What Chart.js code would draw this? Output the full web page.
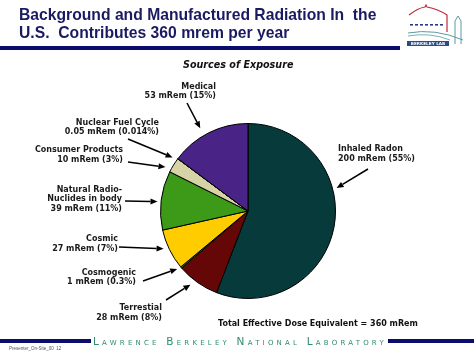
<!DOCTYPE html>
<html>
<head>
<meta charset="utf-8">
<script src="https://cdn.jsdelivr.net/npm/chart.js@4"></script>
<style>
  html, body { margin: 0; padding: 0; background: #fff; }
  #wrap { position: relative; width: 474px; height: 355px; overflow: hidden; background: #fff; }
  #c { position: absolute; left: 0; top: 0; }
  .title { position: absolute; left: 19px; top: 6px; font: bold 15.7px "Liberation Sans", Arial, sans-serif; line-height: 18px; color: #1a1a62; white-space: pre; }
  .bar { position: absolute; background: #0c0c6e; }
  .sub { position: absolute; left: 183px; top: 59px; font: italic bold 9.6px "DejaVu Sans", Verdana, sans-serif; color: #111; white-space: pre; }
  .lbl { position: absolute; font: bold 8px "DejaVu Sans", Verdana, sans-serif; line-height: 9.5px; color: #1a1a1a; white-space: pre; }
  .total { position: absolute; left: 218px; top: 319px; font: bold 8px "DejaVu Sans", Verdana, sans-serif; color: #111; white-space: pre; }
  .banner { position: absolute; left: 93px; top: 335px; font: 10.5px "DejaVu Sans", Verdana, sans-serif; font-variant: small-caps; color: #2f8c6e; white-space: pre; line-height: 12px; }
  .foot { position: absolute; left: 9px; top: 346px; font: 4.5px "Liberation Sans", Arial, sans-serif; color: #555; white-space: pre; }
  .logo { position: absolute; left: 400px; top: 0px; }
</style>
</head>
<body>
<div id="wrap">
  <canvas id="c" width="474" height="355"></canvas>
  <div class="title">Background and Manufactured Radiation In  the
U.S.  Contributes 360 mrem per year</div>
  <div class="bar" style="left:0;top:46px;width:400px;height:4px;"></div>
  <svg class="logo" width="74" height="60" viewBox="0 0 74 60">
    <path d="M9 15 Q18 8 25 7 L26 5 L27 7 Q38 9 47 15 L47 32" fill="none" stroke="#c0283a" stroke-width="1.2"/>
    <g fill="#2a3a8a">
      <rect x="10" y="24" width="3" height="1.6"/><rect x="15" y="24" width="3" height="1.6"/>
      <rect x="20" y="24" width="3" height="1.6"/><rect x="25" y="24" width="3" height="1.6"/>
      <rect x="30" y="24" width="3" height="1.6"/><rect x="35" y="24" width="3" height="1.6"/>
      <rect x="40" y="24" width="3" height="1.6"/>
    </g>
    <path d="M8 33 Q35 28 63 40" fill="none" stroke="#5a9aa0" stroke-width="1"/>
    <path d="M8 36 Q30 32 50 40" fill="none" stroke="#5a9aa0" stroke-width="0.8"/>
    <path d="M55 44 L55 21 L58 16 L61 21 L61 44" fill="none" stroke="#5a9aa0" stroke-width="1"/>
    <rect x="7" y="41" width="42" height="5" fill="#2a4a8a"/>
    <text x="28" y="45.2" font-family="DejaVu Sans" font-size="4.2" font-weight="bold" fill="#ffffff" text-anchor="middle">BERKELEY LAB</text>
  </svg>
  <div class="sub">Sources of Exposure</div>
  <div id="labels"></div>
  <div class="total">Total Effective Dose Equivalent = 360 mRem</div>
  <div class="bar" style="left:0;top:339px;width:91px;height:4px;"></div>
  <div class="bar" style="left:388px;top:339px;width:86px;height:4px;"></div>
  <div class="banner" id="banner">Lawrence Berkeley National Laboratory</div>
  <div class="foot">Presenter_On-Site_00  12</div>
</div>
<script>
// ---- data ----
const categories = ['Inhaled Radon', 'Terrestial', 'Cosmogenic', 'Cosmic', 'Natural Radio-Nuclides in body', 'Consumer Products', 'Nuclear Fuel Cycle', 'Medical'];
const nameLines = [['Inhaled Radon'], ['Terrestial'], ['Cosmogenic'], ['Cosmic'], ['Natural Radio-', 'Nuclides in body'], ['Consumer Products'], ['Nuclear Fuel Cycle'], ['Medical']];
const doses = [200, 28, 1, 27, 39, 10, 0.05, 53];
const percentLabels = ['55%', '8%', '0.3%', '7%', '11%', '3%', '0.014%', '15%'];

// ---- styles / layout ----
const colors = ['#073a3a', '#650707', '#2f6a1a', '#ffcc00', '#3c9a18', '#d6d3a6', '#7a7a50', '#4a2386'];
// label anchors: align, x edge, first line center y
const labelPos = [
  { align: 'left', x: 338, y: 149 },
  { align: 'right', x: 162, y: 308 },
  { align: 'right', x: 136, y: 272.5 },
  { align: 'right', x: 118, y: 239 },
  { align: 'right', x: 122, y: 189.5 },
  { align: 'right', x: 123, y: 150 },
  { align: 'right', x: 159, y: 122.5 },
  { align: 'right', x: 216, y: 86.5 }
];
// arrows: tail point, head angle (deg clockwise from top), gap outside the pie edge
const arrows = [
  { tail: [368, 169], angle: 75.5, gap: 4 },
  { tail: [166, 300], angle: 218, gap: 6 },
  { tail: [143, 281], angle: 230.7, gap: 4 },
  { tail: [119, 247], angle: 245.9, gap: 5 },
  { tail: [125, 201], angle: 276, gap: 3.5 },
  { tail: [128, 162], angle: 298, gap: 6 },
  { tail: [128, 139], angle: 305.4, gap: 5 },
  { tail: [187, 103], angle: 330, gap: 8 }
];

// build labels
const LH = 9.5;
const lblRoot = document.getElementById('labels');
categories.forEach((cat, i) => {
  const d = document.createElement('div');
  d.className = 'lbl';
  const lines = nameLines[i].concat([doses[i] + ' mRem (' + percentLabels[i] + ')']);
  d.textContent = lines.join('\n');
  const p = labelPos[i];
  d.style.top = (p.y - LH / 2) + 'px';
  d.style.textAlign = p.align;
  if (p.align === 'right') d.style.right = (474 - p.x) + 'px';
  else d.style.left = p.x + 'px';
  lblRoot.appendChild(d);
});

// fit banner width
(function () {
  const b = document.getElementById('banner');
  const target = 294;
  const w = b.getBoundingClientRect().width;
  const n = b.textContent.length;
  b.style.letterSpacing = ((target - w) / n) + 'px';
})();

const arrowPlugin = {
  id: 'arrows',
  afterDraw(chart) {
    const arc = chart.getDatasetMeta(0).data[0];
    const cx = arc.x, cy = arc.y, R = arc.outerRadius;
    const ctx = chart.ctx;
    ctx.save();
    ctx.strokeStyle = '#000';
    ctx.fillStyle = '#000';
    ctx.lineWidth = 1.5;
    arrows.forEach(a => {
      const th = a.angle * Math.PI / 180;
      const d = R + a.gap;
      const hx = cx + d * Math.sin(th), hy = cy - d * Math.cos(th);
      const tx = a.tail[0], ty = a.tail[1];
      const ang = Math.atan2(hy - ty, hx - tx);
      const L = 7, W = 3;
      const bx = hx - L * Math.cos(ang), by = hy - L * Math.sin(ang);
      ctx.beginPath();
      ctx.moveTo(tx, ty);
      ctx.lineTo(bx, by);
      ctx.stroke();
      ctx.beginPath();
      ctx.moveTo(hx, hy);
      ctx.lineTo(bx + W * Math.sin(ang), by - W * Math.cos(ang));
      ctx.lineTo(bx - W * Math.sin(ang), by + W * Math.cos(ang));
      ctx.closePath();
      ctx.fill();
    });
    ctx.restore();
  }
};

new Chart(document.getElementById('c'), {
  type: 'pie',
  data: {
    labels: categories,
    datasets: [{
      data: doses,
      backgroundColor: colors,
      borderColor: '#000',
      borderWidth: 1
    }]
  },
  options: {
    responsive: false,
    animation: false,
    layout: { padding: { left: 160, right: 138, top: 123, bottom: 56 } },
    plugins: { legend: { display: false }, tooltip: { enabled: false }, title: { display: false } }
  },
  plugins: [arrowPlugin]
});
</script>
</body>
</html>
